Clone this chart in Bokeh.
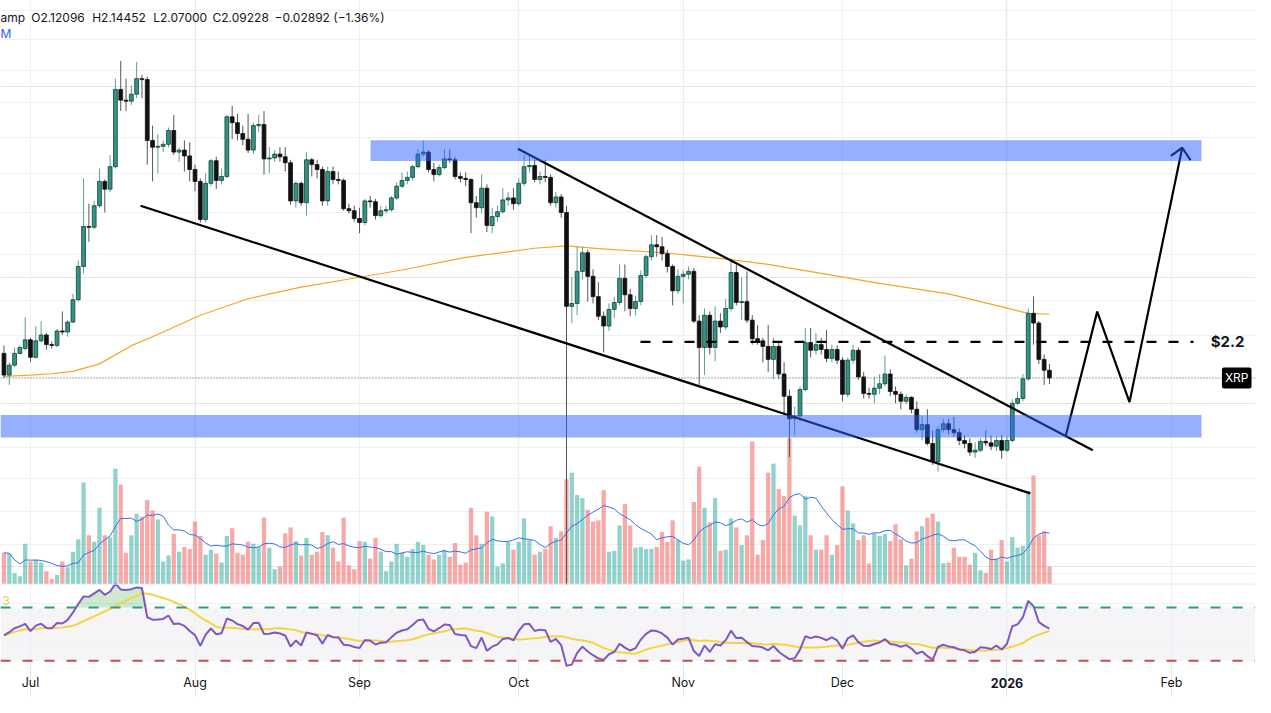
import numpy as np
import pandas as pd
from bokeh.plotting import figure
from bokeh.models import (Range1d, LinearScale, FixedTicker, Grid, Span, BoxAnnotation,
                          Label, ColumnDataSource)
from bokeh.core.properties import value
from bokeh.embed import file_html
from bokeh.resources import INLINE

FONT = "Inter"

# ---------------- data (XRP/USD daily, Bitstamp) ----------------
first_day = "2025-06-26"

opens = [
    2.185, 2.103, 2.140, 2.185, 2.204, 2.238, 2.170, 2.234, 2.257, 2.219,
    2.216, 2.273, 2.269, 2.309, 2.402, 2.547, 2.733, 2.729, 2.835, 2.959,
    2.919, 3.037, 3.480, 3.415, 3.409, 3.451, 3.547, 3.541, 3.181, 3.143,
    3.148, 3.159, 3.237, 3.116, 3.127, 3.095, 3.022, 2.959, 2.767, 2.949,
    3.069, 2.964, 2.985, 3.316, 3.282, 3.220, 3.187, 3.127, 3.265, 3.271,
    3.079, 3.084, 3.105, 3.090, 3.058, 2.859, 2.949, 2.850, 3.074, 3.048,
    3.022, 2.859, 3.011, 2.969, 2.964, 2.820, 2.810, 2.772, 2.752, 2.859,
    2.855, 2.786, 2.810, 2.815, 2.874, 2.934, 2.964, 2.980, 3.037, 3.105,
    3.116, 3.022, 2.995, 3.032, 3.079, 3.074, 2.985, 2.975, 2.969, 2.850,
    2.825, 2.924, 2.738, 2.781, 2.805, 2.864, 2.874, 2.845, 2.949, 3.037,
    3.043, 2.969, 2.985, 2.980, 2.850, 2.879, 2.801, 2.374, 2.386, 2.525,
    2.609, 2.503, 2.415, 2.333, 2.293, 2.361, 2.390, 2.494, 2.423, 2.365,
    2.394, 2.507, 2.591, 2.646, 2.637, 2.605, 2.547, 2.440, 2.503, 2.512,
    2.525, 2.313, 2.208, 2.337, 2.208, 2.313, 2.289, 2.365, 2.520, 2.390,
    2.394, 2.317, 2.242, 2.234, 2.212, 2.162, 2.212, 2.107, 2.026, 1.947,
    1.957, 2.050, 2.227, 2.197, 2.219, 2.200, 2.166, 2.200, 2.159, 2.033,
    2.159, 2.197, 2.096, 2.036, 2.033, 2.055, 2.071, 2.107, 2.043, 2.033,
    2.008, 2.022, 1.980, 1.910, 1.927, 1.864, 1.805, 1.910, 1.930, 1.910,
    1.900, 1.874, 1.864, 1.836, 1.842, 1.871, 1.866, 1.855, 1.874, 1.842,
    1.874, 2.001, 2.018, 2.089, 2.345, 2.305, 2.162, 2.12096,
]
highs = [
    2.216, 2.151, 2.208, 2.216, 2.329, 2.246, 2.293, 2.313, 2.265, 2.231,
    2.281, 2.353, 2.317, 2.427, 2.574, 2.975, 2.845, 2.859, 3.027, 2.969,
    3.100, 3.547, 3.659, 3.547, 3.504, 3.653, 3.571, 3.559, 3.265, 3.215,
    3.181, 3.254, 3.327, 3.143, 3.181, 3.170, 3.048, 2.975, 3.001, 3.079,
    3.090, 3.027, 3.327, 3.380, 3.333, 3.265, 3.333, 3.282, 3.327, 3.350,
    3.143, 3.127, 3.143, 3.143, 3.074, 2.959, 2.959, 3.116, 3.084, 3.074,
    3.037, 3.037, 3.037, 3.011, 2.975, 2.845, 2.835, 2.825, 2.869, 2.884,
    2.869, 2.835, 2.835, 2.884, 2.954, 3.006, 3.011, 3.048, 3.132, 3.181,
    3.127, 3.058, 3.048, 3.132, 3.132, 3.090, 3.006, 3.006, 2.975, 2.884,
    2.995, 2.944, 2.825, 2.835, 2.924, 2.904, 2.924, 2.975, 3.100, 3.100,
    3.074, 3.011, 3.074, 2.995, 2.904, 2.894, 2.835, 2.499, 2.637, 2.637,
    2.623, 2.534, 2.477, 2.353, 2.386, 2.415, 2.556, 2.556, 2.448, 2.419,
    2.529, 2.600, 2.692, 2.692, 2.683, 2.623, 2.556, 2.534, 2.529, 2.547,
    2.540, 2.337, 2.365, 2.353, 2.374, 2.345, 2.406, 2.583, 2.556, 2.499,
    2.525, 2.337, 2.297, 2.246, 2.297, 2.246, 2.227, 2.151, 2.050, 1.990,
    2.061, 2.285, 2.285, 2.265, 2.246, 2.277, 2.219, 2.216, 2.170, 2.170,
    2.219, 2.208, 2.114, 2.057, 2.096, 2.107, 2.177, 2.125, 2.061, 2.043,
    2.033, 2.026, 2.008, 1.957, 1.980, 1.907, 1.923, 1.947, 1.947, 1.953,
    1.914, 1.891, 1.881, 1.868, 1.881, 1.907, 1.891, 1.887, 1.891, 1.887,
    2.015, 2.043, 2.107, 2.365, 2.415, 2.313, 2.181, 2.14452,
]
lows = [
    2.092, 2.067, 2.133, 2.181, 2.196, 2.151, 2.166, 2.227, 2.200, 2.204,
    2.208, 2.257, 2.250, 2.305, 2.394, 2.516, 2.660, 2.720, 2.825, 2.801,
    2.904, 3.027, 3.350, 3.350, 3.386, 3.427, 3.427, 3.048, 2.959, 3.001,
    3.116, 3.143, 3.100, 3.063, 3.011, 2.959, 2.909, 2.752, 2.752, 2.934,
    2.919, 2.944, 2.975, 3.187, 3.181, 3.154, 3.111, 3.105, 3.226, 2.995,
    3.001, 3.063, 3.063, 3.011, 2.840, 2.825, 2.835, 2.786, 2.985, 2.975,
    2.835, 2.835, 2.944, 2.944, 2.810, 2.796, 2.757, 2.701, 2.738, 2.825,
    2.767, 2.776, 2.796, 2.805, 2.864, 2.924, 2.944, 2.964, 3.027, 3.090,
    3.006, 2.959, 2.985, 3.022, 3.058, 2.969, 2.954, 2.934, 2.701, 2.776,
    2.796, 2.706, 2.701, 2.757, 2.796, 2.835, 2.815, 2.835, 2.934, 3.006,
    2.954, 2.944, 2.954, 2.835, 2.825, 2.776, 1.452, 2.305, 2.337, 2.490,
    2.394, 2.386, 2.317, 2.189, 2.273, 2.325, 2.378, 2.353, 2.333, 2.337,
    2.378, 2.494, 2.574, 2.591, 2.574, 2.520, 2.378, 2.427, 2.386, 2.490,
    2.305, 2.067, 2.103, 2.181, 2.155, 2.265, 2.277, 2.353, 2.378, 2.317,
    2.305, 2.219, 2.219, 2.151, 2.114, 2.089, 2.089, 1.963, 1.820, 1.891,
    1.940, 2.043, 2.170, 2.181, 2.181, 2.151, 2.151, 2.144, 2.008, 2.022,
    2.144, 2.085, 2.018, 2.018, 2.001, 2.033, 2.061, 2.026, 2.001, 1.980,
    1.998, 1.966, 1.900, 1.874, 1.858, 1.795, 1.774, 1.900, 1.894, 1.887,
    1.858, 1.848, 1.824, 1.817, 1.836, 1.855, 1.842, 1.839, 1.814, 1.836,
    1.868, 1.994, 2.008, 2.082, 2.219, 2.144, 2.067, 2.07000,
]
closes = [
    2.103, 2.140, 2.185, 2.208, 2.238, 2.170, 2.234, 2.257, 2.219, 2.216,
    2.273, 2.269, 2.309, 2.402, 2.547, 2.733, 2.729, 2.835, 2.959, 2.919,
    3.037, 3.480, 3.415, 3.409, 3.451, 3.547, 3.541, 3.181, 3.143, 3.148,
    3.159, 3.237, 3.116, 3.127, 3.095, 3.022, 2.959, 2.767, 2.949, 3.069,
    2.964, 2.985, 3.316, 3.282, 3.220, 3.187, 3.127, 3.265, 3.271, 3.079,
    3.084, 3.105, 3.090, 3.058, 2.859, 2.949, 2.850, 3.074, 3.048, 3.022,
    2.859, 3.011, 2.969, 2.964, 2.820, 2.810, 2.772, 2.752, 2.859, 2.855,
    2.786, 2.810, 2.815, 2.874, 2.934, 2.964, 2.980, 3.037, 3.105, 3.116,
    3.022, 2.995, 3.032, 3.079, 3.074, 2.985, 2.975, 2.969, 2.850, 2.825,
    2.924, 2.738, 2.781, 2.805, 2.864, 2.874, 2.845, 2.949, 3.037, 3.043,
    2.969, 2.985, 2.980, 2.850, 2.879, 2.801, 2.374, 2.386, 2.525, 2.609,
    2.503, 2.415, 2.333, 2.293, 2.361, 2.390, 2.494, 2.423, 2.365, 2.394,
    2.507, 2.591, 2.646, 2.637, 2.605, 2.547, 2.440, 2.503, 2.512, 2.525,
    2.313, 2.208, 2.337, 2.208, 2.313, 2.289, 2.365, 2.520, 2.390, 2.394,
    2.317, 2.242, 2.234, 2.212, 2.162, 2.212, 2.107, 2.026, 1.947, 1.957,
    2.050, 2.227, 2.197, 2.219, 2.200, 2.166, 2.200, 2.159, 2.033, 2.159,
    2.197, 2.096, 2.036, 2.033, 2.055, 2.071, 2.107, 2.043, 2.033, 2.008,
    2.022, 1.980, 1.910, 1.927, 1.864, 1.805, 1.910, 1.930, 1.910, 1.900,
    1.874, 1.864, 1.836, 1.842, 1.871, 1.866, 1.855, 1.874, 1.842, 1.874,
    2.001, 2.018, 2.089, 2.345, 2.305, 2.162, 2.121, 2.09228,
]
# volume, millions of XRP
volumes = [
    8.0, 7.8, 2.8, 2.0, 10.3, 5.8, 6.3, 5.5, 3.3, 1.3,
    2.3, 5.8, 4.3, 8.3, 11.5, 26.0, 12.5, 10.8, 19.5, 12.5,
    12.0, 29.5, 25.5, 8.0, 12.5, 18.0, 17.3, 21.5, 18.8, 16.5,
    5.8, 7.3, 12.8, 8.3, 9.5, 9.0, 16.0, 12.3, 7.5, 8.8,
    7.8, 5.5, 12.3, 14.3, 8.0, 7.5, 10.8, 10.3, 9.5, 17.0,
    9.3, 3.8, 4.5, 13.0, 14.5, 11.0, 7.3, 11.8, 7.5, 8.3,
    13.3, 12.5, 9.3, 5.8, 17.0, 4.8, 3.8, 11.0, 10.8, 6.5,
    11.8, 8.3, 3.3, 5.8, 10.3, 8.0, 7.0, 9.0, 10.8, 10.0,
    7.5, 6.3, 7.5, 8.8, 7.0, 10.5, 5.0, 5.5, 19.5, 12.5,
    10.3, 18.5, 17.3, 4.5, 5.3, 10.8, 8.8, 10.8, 16.8, 11.3,
    7.5, 8.3, 9.0, 14.8, 11.8, 13.5, 26.8, 28.5, 22.8, 22.0,
    19.0, 16.0, 16.3, 24.0, 8.3, 8.5, 15.0, 20.5, 15.0, 9.3,
    9.5, 9.0, 9.0, 9.5, 13.3, 10.8, 16.3, 11.3, 6.0, 6.3,
    21.0, 30.0, 19.5, 15.8, 22.0, 8.5, 8.8, 16.8, 14.5, 10.0,
    12.5, 36.5, 7.5, 11.3, 28.5, 30.8, 24.3, 22.5, 37.3, 17.5,
    15.0, 22.5, 12.5, 8.8, 8.8, 12.5, 7.5, 10.0, 25.0, 18.8,
    15.5, 11.3, 12.5, 5.3, 13.0, 12.3, 12.8, 11.0, 15.3, 11.5,
    4.8, 6.5, 13.5, 14.8, 17.0, 18.0, 16.0, 5.3, 5.5, 9.3,
    7.0, 7.0, 5.0, 8.0, 3.5, 2.8, 8.8, 6.5, 11.3, 5.8,
    12.0, 9.3, 9.8, 23.8, 27.8, 12.5, 13.5, 4.5,
]

# 200-day moving average
ma200_dates = ["2025-06-26", "2025-07-01", "2025-07-05", "2025-07-09", "2025-07-14",
               "2025-07-20", "2025-07-24", "2025-08-02", "2025-08-11", "2025-08-21",
               "2025-09-01", "2025-09-09", "2025-09-21", "2025-10-04", "2025-10-10",
               "2025-10-16", "2025-10-29", "2025-11-10", "2025-11-17", "2025-11-27",
               "2025-12-08", "2025-12-21", "2026-01-02", "2026-01-05", "2026-01-09"]
ma200_values = [2.098, 2.103, 2.108, 2.117, 2.145, 2.215, 2.250, 2.337, 2.406, 2.456,
                2.499, 2.531, 2.588, 2.630, 2.641, 2.628, 2.608, 2.578, 2.556, 2.516,
                2.472, 2.427, 2.361, 2.345, 2.341]

# RSI seed (average gain / loss before the first bar, RSI ~49 at start)
rsi_seed_gain = 0.030
rsi_seed_loss = 0.031
rsi_upper, rsi_lower = 70, 30

# drawings
lower_tl_dates = ["2025-07-21 17:30", "2026-01-05 09:30"]
lower_tl_prices = [2.835, 1.707]
upper_tl_dates = ["2025-09-30 20:00", "2026-01-17 04:00"]
upper_tl_prices = [3.134, 1.842]
path_dates = ["2026-01-12 01:00", "2026-01-18 00:00", "2026-01-24 02:00", "2026-02-03 00:30"]
path_prices = [1.887, 2.352, 2.005, 3.140]
arrow_dates = ["2026-01-31 21:00", "2026-02-03 00:30", "2026-02-04 14:00"]
arrow_prices = [3.095, 3.140, 3.072]
zone_start_top = "2025-09-03 01:40"
zone_end = "2026-02-06 15:40"
zone_top = (3.068, 3.182)
zone_bottom = (1.884, 1.960)
level_dates = ["2025-10-23 22:30", "2026-02-05 03:30"]
level_price = 2.23
level_text = "$2.2"
last_price = 2.09228

month_ticks = ["2025-07-01", "2025-08-01", "2025-09-01", "2025-10-01",
               "2025-11-01", "2025-12-01", "2026-01-01", "2026-02-01"]
month_labels = ["Jul", "Aug", "Sep", "Oct", "Nov", "Dec", "2026", "Feb"]
month_styles = ["normal", "normal", "normal", "normal", "normal", "normal", "bold", "normal"]
price_grid_levels = [4.0, 3.8, 3.6, 3.4, 3.2, 3.0, 2.8, 2.6, 2.4, 2.254,
                     1.852, 1.752, 1.652, 1.561, 1.482]
rsi_grid_levels = [73.2, 42.1]

legend_items = ["amp", "O2.12096", "H2.14452", "L2.07000", "C2.09228", "\u22120.02892 (\u22121.36%)"]

# ---------------- derived ----------------
def ms(s):
    return pd.Timestamp(s).value / 1e6

DAY = 86400000.0
dates = pd.date_range(first_day, periods=len(closes), freq="D")
o = np.array(opens); h = np.array(highs); l = np.array(lows); c = np.array(closes)
up = c >= o

close_s = pd.Series(closes)
delta = close_s.diff().fillna(0.0)
gains = delta.clip(lower=0).values
losses = (-delta.clip(upper=0)).values
ag, al = rsi_seed_gain, rsi_seed_loss
rsi = []
for g, ls in zip(gains, losses):
    ag = (ag * 13 + g) / 14
    al = (al * 13 + ls) / 14
    rsi.append(100 - 100 / (1 + ag / al))
rsi = np.array(rsi)
rsi_ma = pd.Series(rsi).rolling(14, min_periods=1).mean().values
vol_ma = pd.Series(volumes).rolling(10, min_periods=1).mean().values

src = ColumnDataSource(dict(
    x=dates, o=o, h=h, l=l, c=c,
    top=np.maximum(o, c), bot=np.minimum(o, c),
    body=np.where(up, "#2f9686", "#111111"),
    edge=np.where(up, "#153f38", "#111111"),
    wick=np.where(up, "#5f9f96", "#555555"),
    vol=np.array(volumes),
    volc=np.where(up, "#26a69a", "#ef5350"),
    volma=vol_ma, rsi=rsi, rsima=rsi_ma,
    rsi_over=np.maximum(rsi, rsi_upper), rsi_base=np.full(len(rsi), float(rsi_upper)),
))

# ---------------- figure ----------------
W, H = 1255, 697
x_start, x_end = "2025-06-25 08:20", "2026-02-16 19:50"
p = figure(width=W, height=H, x_axis_type="datetime", y_axis_type="log",
           x_axis_location=None, y_axis_location=None,
           output_backend="svg", toolbar_location=None,
           x_range=Range1d(ms(x_start), ms(x_end)), y_range=Range1d(1.191, 4.071),
           min_border_left=0, min_border_right=0, min_border_top=0, min_border_bottom=0)
p.extra_y_ranges = {"vol": Range1d(-29.0, 149.25), "rsi": Range1d(2.48, 525.8)}
p.extra_y_scales = {"vol": LinearScale(), "rsi": LinearScale()}
p.outline_line_color = None
p.background_fill_color = "white"
p.border_fill_color = "white"

GRID = "#eef0f3"
month_x = pd.to_datetime(month_ticks)

# grids
p.add_layout(Grid(dimension=1, ticker=FixedTicker(ticks=price_grid_levels), grid_line_color=GRID))
p.add_layout(Grid(dimension=1, ticker=FixedTicker(ticks=rsi_grid_levels), y_range_name="rsi",
                  grid_line_color=GRID))
p.segment(x0=month_x, x1=month_x, y0=[24.5] * len(month_x), y1=[600.0] * len(month_x),
          y_range_name="rsi", line_color=GRID, line_width=1)

# RSI background band
p.add_layout(BoxAnnotation(bottom=rsi_lower, top=rsi_upper, y_range_name="rsi",
                           fill_color="#f3f3f5", fill_alpha=0.8, line_color=None, level="underlay"))

# volume
p.vbar(x="x", width=0.8 * DAY, top="vol", bottom=0, source=src, y_range_name="vol",
       fill_color="volc", fill_alpha=0.5, line_color=None)
p.line(x="x", y="volma", source=src, y_range_name="vol", line_color="#3b6fe6", line_width=1)
p.add_layout(Span(location=0, dimension="width", y_range_name="vol", line_color="#e3e6ec", line_width=1))

# MA 200
p.line(x=pd.to_datetime(ma200_dates), y=ma200_values, line_color="#f5a623", line_width=1.2)

# candles
p.segment(x0="x", y0="h", x1="x", y1="l", source=src, line_color="wick", line_width=1)
p.vbar(x="x", width=0.72 * DAY, top="top", bottom="bot", source=src,
       fill_color="body", line_color="edge", line_width=0.8)

# trendlines and projected path
p.line(x=pd.to_datetime(lower_tl_dates), y=lower_tl_prices, line_color="black", line_width=2.2)
p.line(x=pd.to_datetime(upper_tl_dates), y=upper_tl_prices, line_color="black", line_width=2.2)
p.line(x=pd.to_datetime(path_dates), y=path_prices, line_color="black", line_width=2.2)
p.line(x=pd.to_datetime(arrow_dates), y=arrow_prices, line_color="black", line_width=2.2)

# $2.2 level
p.line(x=pd.to_datetime(level_dates), y=[level_price, level_price], line_color="black",
       line_width=2.2, line_dash="10 12")

# zones
p.add_layout(BoxAnnotation(left=ms(zone_start_top), right=ms(zone_end), bottom=zone_top[0], top=zone_top[1],
                           fill_color="#2962ff", fill_alpha=0.5, line_color=None))
p.add_layout(BoxAnnotation(left=ms(x_start), right=ms(zone_end), bottom=zone_bottom[0], top=zone_bottom[1],
                           fill_color="#2962ff", fill_alpha=0.5, line_color=None))

# last price line
p.add_layout(Span(location=last_price, dimension="width", line_color="#4a4a4a",
                  line_dash="1 2", line_width=1))

# RSI pane
p.add_layout(Span(location=rsi_upper, dimension="width", y_range_name="rsi", line_color="#2e9e8c",
                  line_dash="10 12", line_width=2))
p.add_layout(Span(location=rsi_lower, dimension="width", y_range_name="rsi", line_color="#cc4b4b",
                  line_dash="10 12", line_width=2))
p.varea(x="x", y1="rsi_base", y2="rsi_over", source=src, y_range_name="rsi",
        fill_color="#4caf50", fill_alpha=0.28)
p.line(x="x", y="rsima", source=src, y_range_name="rsi", line_color="#f5d443", line_width=2)
p.line(x="x", y="rsi", source=src, y_range_name="rsi", line_color="#7e57c2", line_width=2)

# time labels
p.text(x=month_x, y=[13.5] * len(month_x), text=month_labels, y_range_name="rsi",
       text_font=value(FONT), text_font_size=value("12.5px"), text_font_style=month_styles,
       text_color="#131722", text_align="center", text_baseline="middle")

# texts
legend_x = [0, 30.7, 91.7, 152.7, 212, 274]
for txt, xx in zip(legend_items, legend_x):
    p.add_layout(Label(x=xx, x_units="screen", y=3.952, text=txt, text_font=FONT,
                       text_font_size="12px", text_color="#131722", text_baseline="middle"))
p.add_layout(Label(x=0, x_units="screen", y=3.838, text="M", text_font=FONT,
                   text_font_size="12px", text_color="#2962ff", text_baseline="middle"))
p.add_layout(Label(x=1227, x_units="screen", y=level_price, text=level_text, text_font=FONT,
                   text_font_size="15px", text_font_style="bold", text_color="#131722",
                   text_align="center", text_baseline="middle"))
p.add_layout(Label(x=W - 4, x_units="screen", y=last_price, text="XRP", text_font=FONT,
                   text_font_size="12px", text_color="white", text_baseline="middle",
                   text_align="right", background_fill_color="black", padding=3, border_radius=2))
p.add_layout(Label(x=2, x_units="screen", y=75.1, y_range_name="rsi", text="3", text_font=FONT,
                   text_font_size="12px", text_color="#f2c94c", text_baseline="middle"))

open("out.html", "w").write(file_html(p, INLINE))
